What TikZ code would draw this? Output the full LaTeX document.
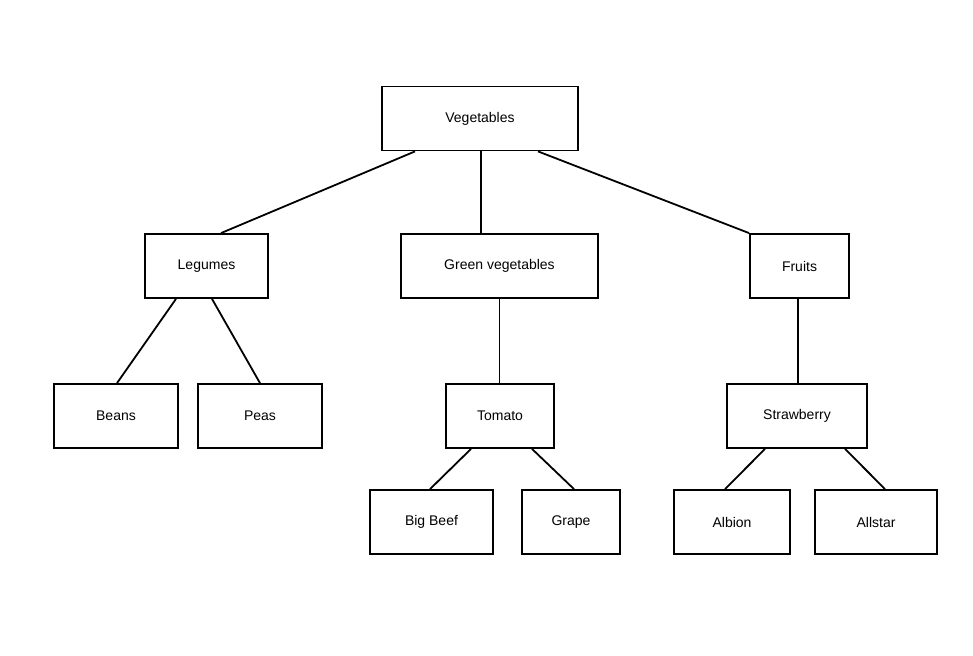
\documentclass[tikz,border=0pt]{standalone}
\usepackage{fontspec}
\setmainfont{Liberation Sans}
\begin{document}
\begin{tikzpicture}[x=1pt,y=-1pt,
  box/.style={draw,line width=1.8pt,minimum height=64pt,inner sep=0pt,font=\fontsize{14}{16}\selectfont},
  edge/.style={line width=1.8pt}]
\useasboundingbox (0,0) rectangle (973,655);
\node[box,minimum width=196pt] (veg) at (480,118.5) {Vegetables};
\node[box,minimum width=123pt] (leg) at (206.5,266) {Legumes};
\node[box,minimum width=197pt] (green) at (499.5,266) {Green vegetables};
\node[box,minimum width=99pt] (fru) at (799.5,266) {Fruits};
\node[box,minimum width=124pt] (beans) at (116,416) {Beans};
\node[box,minimum width=124pt] (peas) at (260,416) {Peas};
\node[box,minimum width=108pt] (tom) at (500,416) {Tomato};
\node[box,minimum width=140pt] (straw) at (797,416) {Strawberry};
\node[box,minimum width=123pt] (bigbeef) at (431.5,522) {Big Beef};
\node[box,minimum width=98pt] (grape) at (571,522) {Grape};
\node[box,minimum width=116pt] (albion) at (732,522) {Albion};
\node[box,minimum width=122pt] (allstar) at (876,522) {Allstar};
\draw[edge] ([xshift=-65pt]veg.south) -- ([xshift=14.5pt]leg.north);
\draw[edge] ([xshift=1pt]veg.south) -- ([xshift=-18.5pt]green.north);
\draw[edge] ([xshift=58pt]veg.south) -- (fru.north west);
\draw[edge] ([xshift=-30.5pt]leg.south) -- ([xshift=1pt]beans.north);
\draw[edge] ([xshift=5.5pt]leg.south) -- (peas.north);
\draw[edge] (green.south) -- ([xshift=-0.5pt]tom.north);
\draw[edge] ([xshift=-1.5pt]fru.south) -- ([xshift=1pt]straw.north);
\draw[edge] ([xshift=-29pt]tom.south) -- ([xshift=-1.5pt]bigbeef.north);
\draw[edge] ([xshift=32pt]tom.south) -- ([xshift=3pt]grape.north);
\draw[edge] ([xshift=-32pt]straw.south) -- ([xshift=-7pt]albion.north);
\draw[edge] ([xshift=48pt]straw.south) -- ([xshift=9pt]allstar.north);
\end{tikzpicture}
\end{document}
